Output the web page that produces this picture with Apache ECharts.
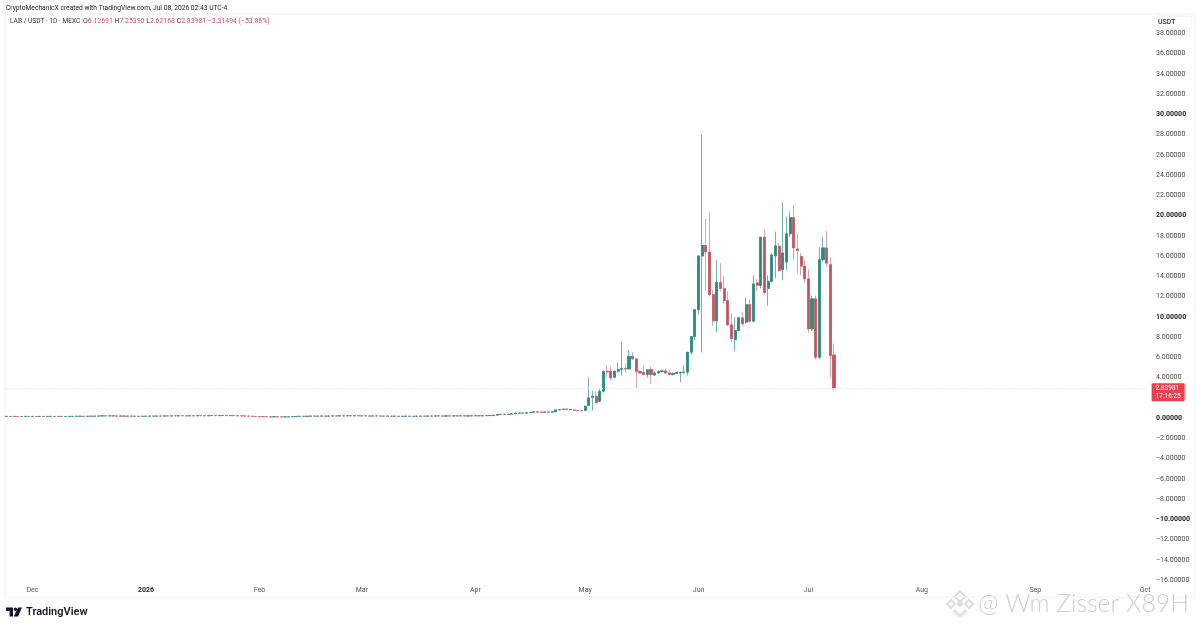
<!DOCTYPE html>
<html><head><meta charset="utf-8">
<style>html,body{margin:0;padding:0;background:#fff}#c{width:1196px;height:629px}</style>
<script src="https://cdn.jsdelivr.net/npm/echarts@6/dist/echarts.min.js"></script>
</head><body><div id="c"></div>
<script>
const firstDay = '2025-11-24';
const dayCount = 313;
const monthLabels = {'2025-12-01':'Dec','2026-01-01':'2026','2026-02-01':'Feb','2026-03-01':'Mar','2026-04-01':'Apr','2026-05-01':'May','2026-06-01':'Jun','2026-07-01':'Jul','2026-08-01':'Aug','2026-09-01':'Sep','2026-10-01':'Oct'};
const priceTicksBold = [30,20,10,0,-10];
const lastPrice = 2.83981;

// Nov 24 - Apr 4: almost flat
const flatOpen = [0.05,0.06,0.05,0.06,0.05,0.05,0.06,0.05,0.06,0.05,
0.06,0.05,0.06,0.06,0.05,0.06,0.05,0.05,0.06,0.06,
0.07,0.07,0.06,0.08,0.07,0.09,0.10,0.12,0.11,0.12,
0.10,0.09,0.10,0.08,0.09,0.08,0.07,0.06,0.07,0.08,
0.09,0.08,0.10,0.09,0.11,0.10,0.12,0.11,0.13,0.12,
0.11,0.13,0.12,0.14,0.13,0.12,0.14,0.15,0.13,0.15,
0.16,0.14,0.15,0.13,0.12,0.11,0.09,0.08,0.06,0.05,
0.04,0.03,0.02,0.02,0.03,0.02,0.01,0.02,0.03,0.04,
0.06,0.07,0.06,0.08,0.09,0.08,0.09,0.10,0.08,0.10,
0.11,0.10,0.12,0.11,0.13,0.12,0.13,0.11,0.12,0.10,
0.09,0.11,0.10,0.09,0.08,0.09,0.07,0.08,0.06,0.07,
0.08,0.06,0.07,0.08,0.09,0.08,0.10,0.09,0.11,0.10,
0.09,0.11,0.10,0.12,0.11,0.12,0.10,0.11,0.12,0.13,0.12,0.13];
const flatClose = [0.06,0.05,0.06,0.05,0.05,0.06,0.05,0.06,0.05,0.06,
0.05,0.06,0.06,0.05,0.06,0.05,0.05,0.06,0.06,0.07,
0.07,0.06,0.08,0.07,0.09,0.10,0.12,0.11,0.12,0.10,
0.09,0.10,0.08,0.09,0.08,0.07,0.06,0.07,0.08,0.09,
0.08,0.10,0.09,0.11,0.10,0.12,0.11,0.13,0.12,0.11,
0.13,0.12,0.14,0.13,0.12,0.14,0.15,0.13,0.15,0.16,
0.14,0.15,0.13,0.12,0.11,0.09,0.08,0.06,0.05,0.04,
0.03,0.02,0.02,0.03,0.02,0.01,0.02,0.03,0.04,0.06,
0.07,0.06,0.08,0.09,0.08,0.09,0.10,0.08,0.10,0.11,
0.10,0.12,0.11,0.13,0.12,0.13,0.11,0.12,0.10,0.09,
0.11,0.10,0.09,0.08,0.09,0.07,0.08,0.06,0.07,0.08,
0.06,0.07,0.08,0.09,0.08,0.10,0.09,0.11,0.10,0.09,
0.11,0.10,0.12,0.11,0.12,0.10,0.11,0.12,0.13,0.12,0.13,0.14];

// Apr 5 - Jul 8
const activeOpen = [0.14,0.15,0.18,0.25,0.27,0.25,0.28,0.32,0.38,0.40,0.38,0.42,0.44,0.52,0.48,0.46,0.50,0.48,0.52,0.70,0.74,0.78,0.76,0.70,0.66,0.63,
0.64,1.13,1.95,2.05,1.56,2.55,4.52,4.52,3.93,4.52,4.70,4.80,4.75,6.00,5.74,4.50,4.40,4.20,4.70,4.15,4.35,4.50,4.55,4.35,4.20,4.30,4.35,4.40,4.43,6.40,7.95,
10.60,15.90,16.94,16.30,12.10,9.50,13.30,12.70,11.50,9.10,7.65,8.55,9.80,9.36,11.10,9.46,13.25,13.00,17.76,12.70,13.40,15.90,16.87,14.56,15.30,18.10,19.70,16.60,15.85,14.90,
13.65,8.70,11.67,5.90,15.55,16.70,15.05,6.12691];
const activeHigh = [0.16,0.19,0.26,0.28,0.28,0.29,0.33,0.39,0.42,0.42,0.43,0.46,0.54,0.54,0.50,0.52,0.52,0.53,0.72,0.76,0.80,0.81,0.78,0.72,0.68,0.65,
1.10,3.93,2.60,2.55,2.80,4.60,5.10,5.00,4.60,5.35,7.45,5.30,6.60,6.40,5.80,4.60,5.00,4.40,4.95,4.50,4.60,4.70,4.75,4.60,4.40,4.45,4.50,5.10,4.60,6.60,8.90,
15.95,27.90,19.60,20.20,12.60,15.50,15.20,13.90,12.40,10.20,9.85,9.90,10.35,11.80,11.60,14.00,13.60,17.80,18.60,14.00,16.20,18.30,17.20,21.20,19.80,20.30,20.90,18.10,16.20,15.50,
14.60,12.00,12.00,16.80,17.80,18.35,15.80,7.25390];
const activeLow = [0.13,0.14,0.17,0.24,0.24,0.24,0.27,0.31,0.37,0.37,0.37,0.41,0.43,0.47,0.45,0.45,0.47,0.47,0.51,0.69,0.73,0.74,0.69,0.65,0.62,0.60,
0.62,1.10,0.64,1.35,1.50,2.40,3.90,3.60,3.85,4.40,4.10,4.40,4.70,5.60,2.78,4.25,4.10,3.90,3.28,4.05,4.25,4.40,4.25,4.10,4.10,4.25,3.45,4.30,4.10,6.20,7.60,
10.10,6.37,12.50,11.90,9.00,8.40,12.40,11.20,9.00,7.40,6.50,8.45,9.00,9.20,9.30,9.40,12.40,12.70,12.10,11.00,13.30,13.70,14.30,13.50,14.50,17.80,15.50,14.20,14.00,13.20,
8.30,8.50,5.70,5.70,15.30,14.80,3.90,2.62168];
const activeClose = [0.15,0.18,0.25,0.27,0.25,0.28,0.32,0.38,0.40,0.38,0.42,0.44,0.52,0.48,0.46,0.50,0.48,0.52,0.70,0.74,0.78,0.76,0.70,0.66,0.63,0.62,
1.07,1.89,2.05,1.40,2.55,4.52,4.45,3.86,4.52,4.70,4.80,4.75,6.00,5.74,4.50,4.35,4.20,4.66,4.20,4.35,4.50,4.55,4.35,4.20,4.30,4.42,4.40,4.45,6.40,7.95,10.60,
15.90,16.94,16.30,12.10,9.50,13.30,12.70,11.50,9.10,7.75,8.55,9.80,9.20,11.10,9.46,13.15,13.00,17.76,12.30,13.40,16.00,16.90,14.47,16.20,18.10,19.70,16.70,16.45,14.90,13.65,
8.70,11.67,5.90,15.55,16.70,15.20,6.07,2.83981];
</script>
<script>
const O = flatOpen.concat(activeOpen), C = flatClose.concat(activeClose);
const H = flatOpen.map((v,i)=>Math.max(v,flatClose[i])).concat(activeHigh);
const L = flatOpen.map((v,i)=>Math.min(v,flatClose[i])).concat(activeLow);
const dates=[];const d0=new Date(firstDay+'T00:00:00Z');
for(let i=0;i<dayCount;i++){dates.push(new Date(d0.getTime()+i*864e5).toISOString().slice(0,10));}
const full=[],body=[];
for(let i=0;i<O.length;i++){
  full.push([O[i],C[i],L[i],H[i]]);
  body.push([O[i],C[i],Math.min(O[i],C[i]),Math.max(O[i],C[i])]);
}
const UP='#2a8a7d',DN='#c4525f',F='Roboto, sans-serif';
const chart=echarts.init(document.getElementById('c'),null,{renderer:'canvas',width:1196,height:629});
chart.setOption({
  animation:false,backgroundColor:'#fff',
  grid:{left:5,right:45.4,top:12,bottom:50,containLabel:false},
  xAxis:{type:'category',data:dates,boundaryGap:true,axisLine:{show:false},axisTick:{show:false},splitLine:{show:false},
    axisLabel:{interval:(i,v)=>v in monthLabels,margin:8,color:'#555',fontFamily:F,fontSize:7,
      formatter:v=>{const t=monthLabels[v];return t==='2026'?'{b|2026}':(t||'');},
      rich:{b:{fontWeight:700,color:'#222',fontFamily:F,fontSize:7}}}},
  yAxis:{type:'value',position:'right',min:-16,max:40,interval:2,axisLine:{show:false},axisTick:{show:false},splitLine:{show:false},scale:false,
    axisLabel:{margin:5.4,align:'left',color:'#444',fontFamily:F,fontSize:7,padding:[2,0,0,0],
      formatter:v=>{if(v===40)return '';const s=(v<0?'\u2212':'')+Math.abs(v).toFixed(5);return priceTicksBold.includes(v)?'{b|'+s+'}':s;},
      rich:{b:{fontWeight:700,color:'#222',fontFamily:F,fontSize:7}}}},
  series:[
   {type:'candlestick',data:full,barWidth:2.6,z:2,clip:false,
    itemStyle:{color:'transparent',color0:'transparent',borderColor:'#74b0b4',borderColor0:'#dca6ae',borderWidth:1},
    markLine:{silent:true,symbol:'none',animation:false,
      lineStyle:{color:'#f7e9e9',type:'dashed',width:1},
      label:{show:true,position:'end',distance:1,offset:[0,4],formatter:'2.83981\n17:16:25',color:'#fff',fontFamily:F,fontSize:6.5,lineHeight:8,
        backgroundColor:'#e8424f',padding:[1,4,1,4],borderRadius:1},
      data:[{yAxis:lastPrice}]}},
   {type:'candlestick',data:body,barWidth:2.6,z:3,clip:false,
    itemStyle:{color:UP,color0:DN,borderColor:UP,borderColor0:DN,borderWidth:0.5}}
  ],
  graphic:[
   {type:'polyline',silent:true,z:1,shape:{points:[[5,597],[5,14],[1195,14],[1195,597],[5,597]]},style:{stroke:'#f2f2f2',fill:null,lineWidth:1}},
   {type:'rect',z:50,shape:{x:1153,y:16,width:39,height:13,r:2},style:{fill:'#fff',stroke:'#f1f1f1',lineWidth:1}},
   {type:'text',z:51,x:1158,y:22.5,style:{text:'USDT',fill:'#333',font:'500 7px '+F,textVerticalAlign:'middle'}},
   {type:'text',z:51,x:6,y:8,style:{text:'CryptoMechanicX created with TradingView.com, Jul 08, 2026 02:43 UTC-4',fill:'#222',font:'6.7px '+F,textVerticalAlign:'middle'}},
   {type:'text',z:51,x:10,y:21.5,style:{text:'LAB / USDT \u00b7 1D \u00b7 MEXC',fill:'#333',font:'6.6px '+F,textVerticalAlign:'middle'}},
   {type:'text',z:51,x:83,y:21.5,style:{text:'O{r|6.12691} H{r|7.25390} L{r|2.62168} C{r|2.83981} {r|\u22123.31494 (\u221253.86%)}',fill:'#333',font:'6.9px '+F,textVerticalAlign:'middle',
      rich:{r:{fill:'#c4525f',font:'6.9px '+F}}}},
   {type:'group',x:6,y:607.5,z:51,children:[
     {type:'polygon',shape:{points:[[0,0],[7,0],[7,9],[3.6,9],[3.6,3.4],[0,3.4]]},style:{fill:'#131722'}},
     {type:'circle',shape:{cx:9.4,cy:1.7,r:1.7},style:{fill:'#131722'}},
     {type:'polygon',shape:{points:[[12,0],[16,0],[12,9],[7.8,9]]},style:{fill:'#131722'}}]},
   {type:'text',z:51,x:26,y:612.5,style:{text:'TradingView',fill:'#131722',font:'600 11px '+F,textVerticalAlign:'middle'}},
   {type:'group',x:960,y:604,z:40,children:[
     {type:'polygon',shape:{points:[[0,-13],[5.5,-7.5],[0,-2],[-5.5,-7.5]]},style:{fill:null,stroke:'#dcdcdc',lineWidth:2}},
     {type:'polygon',shape:{points:[[-9,-4],[-5,0],[-9,4],[-13,0]]},style:{fill:null,stroke:'#dcdcdc',lineWidth:2}},
     {type:'polygon',shape:{points:[[9,-4],[13,0],[9,4],[5,0]]},style:{fill:null,stroke:'#dcdcdc',lineWidth:2}},
     {type:'polygon',shape:{points:[[0,-3.5],[3.5,0],[0,3.5],[-3.5,0]]},style:{fill:'#dcdcdc'}},
     {type:'polygon',shape:{points:[[-5,5],[0,10],[5,5],[7.5,7.5],[0,14],[-7.5,7.5]]},style:{fill:'#e4e4e4'}}]},
   {type:'text',z:40,x:978,y:604,style:{text:'@ Wm Zisser X89H',fill:'#cfcfcf',font:'300 24.8px Lato, "Noto Sans", sans-serif',textVerticalAlign:'middle'}}
  ]
});
</script>
</body></html>
